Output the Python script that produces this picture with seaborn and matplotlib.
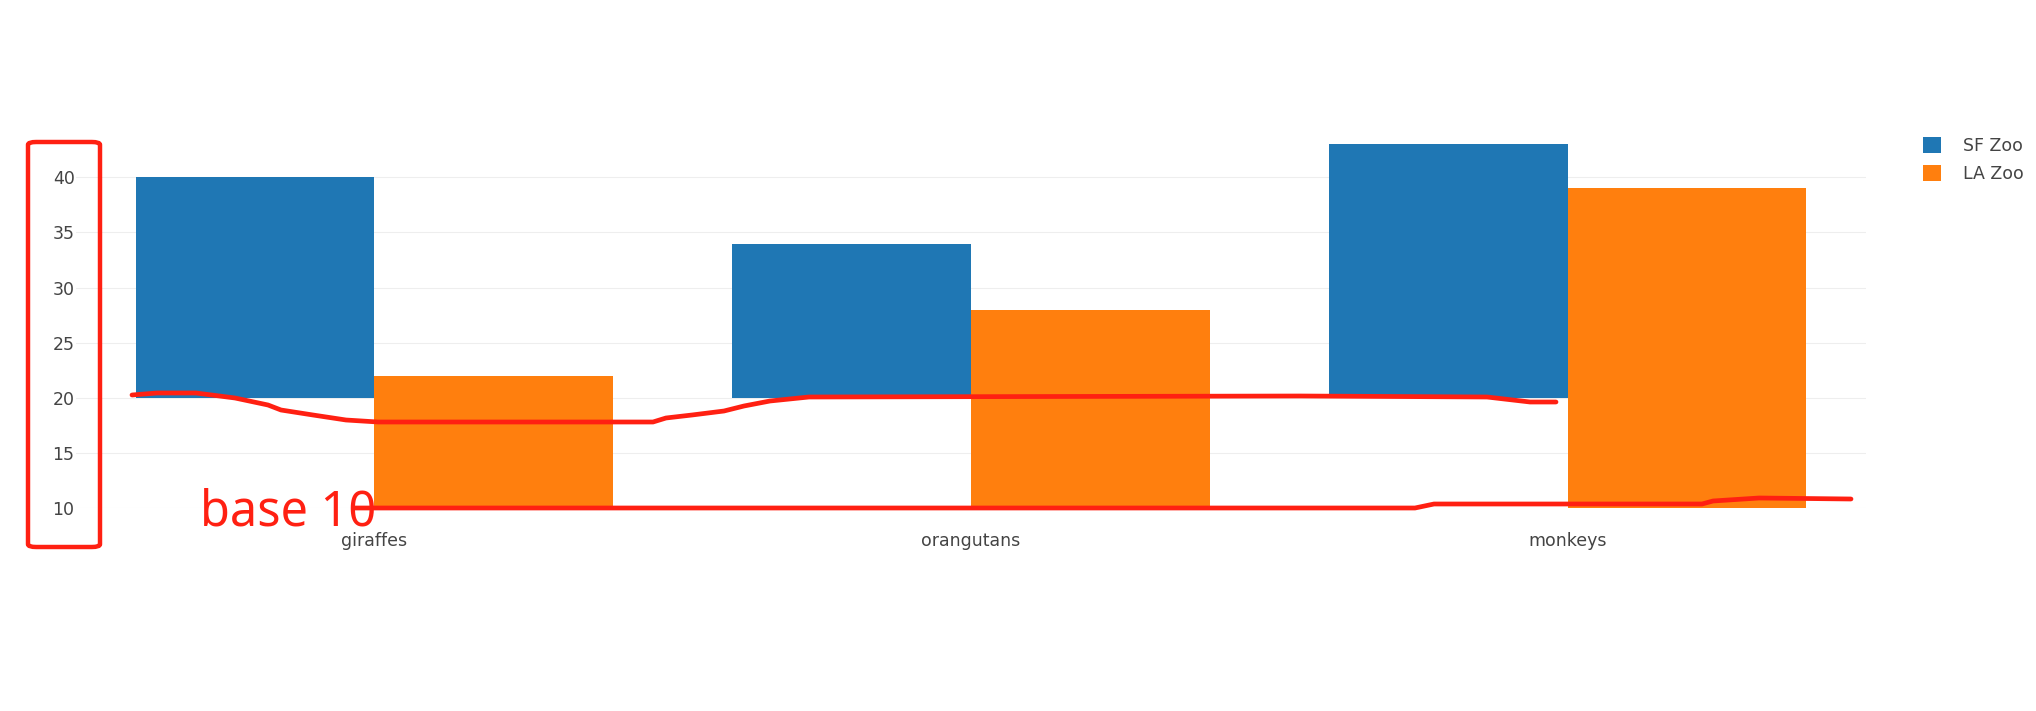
import numpy as np
import pandas as pd

import matplotlib
matplotlib.use("Agg")

import matplotlib.pyplot as plt
from matplotlib.lines import Line2D
from matplotlib.patches import FancyBboxPatch
import seaborn as sns


# =====================================
# DATA
# =====================================

animals = ["giraffes", "orangutans", "monkeys"]

zoos = ["SF Zoo", "LA Zoo"]

sf_values = [20, 14, 23]
sf_base = 20

la_values = [12, 18, 29]
la_base = 10

y_ticks = [10, 15, 20, 25, 30, 35, 40]

zoo_colors = ["#1f77b4", "#ff7f0e"]

df = pd.DataFrame({
    "animal": animals * 2,
    "zoo": ["SF Zoo"] * 3 + ["LA Zoo"] * 3,
    "value": sf_values + la_values,
})


# =====================================
# FIGURE
# =====================================

W, H = 2036, 711

sns.set_theme(style="white")
plt.rcParams["font.family"] = ["DejaVu Sans"]

fig = plt.figure(figsize=(W / 100, H / 100), dpi=100)
fig.patch.set_facecolor("white")

ax = fig.add_axes([76 / W, (H - 508.3) / H, 1790 / W, (508.3 - 126) / H])


def fx(x):
    return x / W


def fy(y):
    return 1 - y / H


# =====================================
# BARS (each zoo has its own base)
# =====================================

palette = dict(zip(zoos, zoo_colors))

sns.barplot(
    data=df[df["zoo"] == "SF Zoo"],
    x="animal",
    y="value",
    hue="zoo",
    hue_order=zoos,
    order=animals,
    palette=palette,
    saturation=1,
    errorbar=None,
    dodge=True,
    bottom=sf_base,
    linewidth=0,
    legend=False,
    ax=ax
)

sns.barplot(
    data=df[df["zoo"] == "LA Zoo"],
    x="animal",
    y="value",
    hue="zoo",
    hue_order=zoos,
    order=animals,
    palette=palette,
    saturation=1,
    errorbar=None,
    dodge=True,
    bottom=la_base,
    linewidth=0,
    legend=False,
    ax=ax
)

ax.set_ylim(10, 44.65)
ax.set_xlim(-0.5, len(animals) - 0.5)
ax.set_yticks(y_ticks)

ax.set_xlabel("")
ax.set_ylabel("")

ax.grid(axis="y", color="#eeeeee", linewidth=0.8)
ax.set_axisbelow(True)

for side in ["top", "right", "left", "bottom"]:
    ax.spines[side].set_visible(False)

ax.tick_params(axis="y", length=0, pad=1, labelsize=12.5, labelcolor="#444444")
ax.tick_params(axis="x", length=0, pad=17, labelsize=12.5, labelcolor="#444444")


# =====================================
# LEGEND
# =====================================

handles = [
    plt.Rectangle((0, 0), 1, 1, facecolor=c, edgecolor="none")
    for c in zoo_colors
]

fig.legend(
    handles,
    zoos,
    loc="upper left",
    bbox_to_anchor=(fx(1923), fy(137)),
    frameon=False,
    fontsize=12.5,
    labelcolor="#444444",
    borderpad=0,
    borderaxespad=0,
    handlelength=1.03,
    handleheight=1.03,
    handletextpad=1.26,
    labelspacing=0.58
)


# =====================================
# RED HAND ANNOTATIONS
# =====================================

red = "#ff2012"

box = FancyBboxPatch(
    (fx(28), fy(547)),
    fx(100) - fx(28),
    fy(142) - fy(547),
    boxstyle="round,pad=0,rounding_size=0.004",
    transform=fig.transFigure,
    fill=False,
    edgecolor=red,
    linewidth=3.2
)
fig.add_artist(box)

line1 = [
    (132, 395), (157, 393), (196, 393), (235, 398), (268, 405),
    (281, 410), (313, 415), (346, 420), (378, 422), (653, 422),
    (666, 418), (692, 415), (724, 411), (744, 406), (770, 401),
    (809, 397), (1300, 396), (1487, 397), (1530, 402), (1556, 402)
]

line2 = [
    (355, 508), (1415, 508), (1434, 504), (1702, 504),
    (1713, 501), (1759, 498), (1851, 499)
]

for pts in [line1, line2]:
    fig.add_artist(Line2D(
        [fx(p[0]) for p in pts],
        [fy(p[1]) for p in pts],
        transform=fig.transFigure,
        color=red,
        linewidth=3.4,
        solid_capstyle="round",
        solid_joinstyle="round"
    ))

fig.text(
    fx(200),
    fy(525),
    "base 10",
    color=red,
    fontsize=35,
    family=["Noto Sans", "DejaVu Sans"],
    ha="left",
    va="baseline"
)

plt.savefig("out.png", dpi=100, facecolor="white")

plt.close()
